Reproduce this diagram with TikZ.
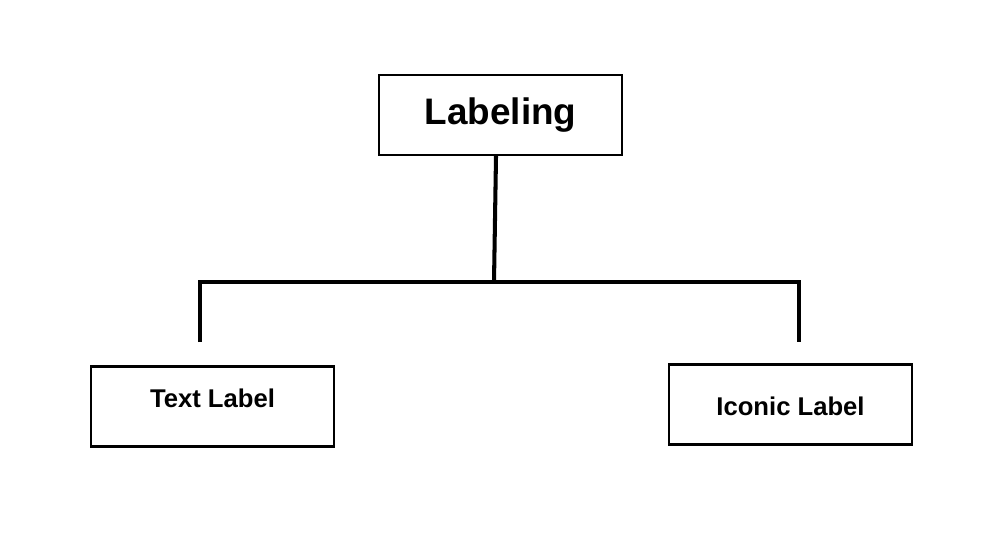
\documentclass[tikz,border=0pt]{standalone}
\usepackage{fontspec}
\setmainfont{Liberation Sans}
\usepackage{tikz}
\usetikzlibrary{calc}

\begin{document}
\begin{tikzpicture}[x=0.02cm,y=-0.02cm,line join=miter,
        box/.style={draw=black,line width=1.4pt,fill=white,minimum width=4.86cm,minimum height=1.6cm,inner sep=0pt,font=\bfseries},
        small/.style={font=\bfseries\fontsize{14.6}{17}\selectfont},
        branch/.style={line width=1.8pt}]

        % keep the page at the size of the reference
        \useasboundingbox[fill=white] (0,0) rectangle (1000,550);

        % draw the boxes
        \node[box,font=\bfseries\fontsize{21}{24}\selectfont] (labeling) at (500.5,115) {Labeling};
        \node[box,small,text depth=0.32cm] (text) at (212.5,406.5) {Text Label};
        \node[box,small,text height=0.45cm] (iconic) at (790.5,404.5) {Iconic Label};

        % points of the tree
        \coordinate (hub) at (494,282);
        \coordinate (lefttop) at (200,282);
        \coordinate (leftend) at (200,342);
        \coordinate (righttop) at (799,282);
        \coordinate (rightend) at (799,342);

        % draw the trunk and the branches
        \draw[line width=2.3pt] ([xshift=-0.09cm]labeling.south) -- (hub);
        \draw[branch] (leftend) -- (lefttop) -- (righttop) -- (rightend);
\end{tikzpicture}
\end{document}
